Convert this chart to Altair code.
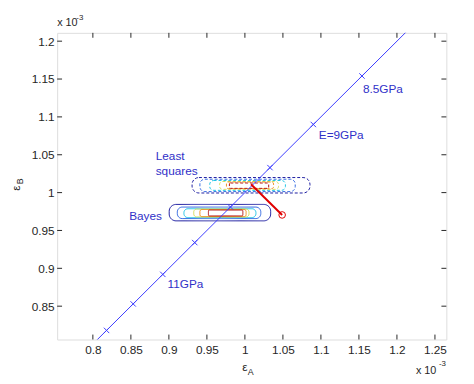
import altair as alt
import pandas as pd

# ---- data (strain values in units of 1e-3) ----
x_ticks = [0.8, 0.85, 0.9, 0.95, 1.0, 1.05, 1.1, 1.15, 1.2, 1.25]
y_ticks = [0.85, 0.9, 0.95, 1.0, 1.05, 1.1, 1.15, 1.2]

# modulus line (eps_A, eps_B) and its E markers
line_A = [0.80, 1.22]
line_B = [0.80, 1.22]
E_GPa = [8.5, 9, 9.5, 10, 10.5, 11, 11.5, 12]
E_eps_A = [1.154, 1.090, 1.033, 0.981, 0.934, 0.892, 0.853, 0.818]
E_eps_B = [1.154, 1.090, 1.033, 0.981, 0.934, 0.892, 0.853, 0.818]

label_text = ["8.5GPa", "E=9GPa", "11GPa", "Least", "squares", "Bayes"]
label_A = [1.1553, 1.0972, 0.8982, 0.8827, 0.8827, 0.8478]
label_B = [1.1371, 1.0766, 0.8797, 1.0484, 1.0290, 0.9692]

# contour levels (outer -> inner): x-extent and y-extent
level_ids = [1, 2, 3, 4, 5, 6]
level_colors = ["#1c1ca0", "#2f66e0", "#1ec4e6", "#d6dc5a", "#f0901e", "#b01010"]
level_radius = [7, 5, 4, 3, 2, 1]
bayes_x0 = [0.9004, 0.9111, 0.9198, 0.9327, 0.9408, 0.9520]
bayes_x1 = [1.0339, 1.0209, 1.0145, 1.0054, 1.0016, 0.9973]
bayes_y0 = [0.9627, 0.9657, 0.9670, 0.9679, 0.9683, 0.9692]
bayes_y1 = [0.9844, 0.9809, 0.9787, 0.9783, 0.9777, 0.9770]
ls_x0 = [0.9305, 0.9408, 0.9537, 0.9667, 0.9757, 0.9796]
ls_x1 = [1.0856, 1.0662, 1.0533, 1.0442, 1.0377, 1.0313]
ls_y0 = [0.9995, 1.0013, 1.0030, 1.0043, 1.0052, 1.0056]
ls_y1 = [1.0199, 1.0177, 1.0160, 1.0147, 1.0140, 1.0127]

# estimate shift (least squares -> Bayes-corrected point)
shift_A = [1.008, 1.049]
shift_B = [1.011, 0.9705]

FONT = "Liberation Sans"
TXT = "#262626"
BLUE_LINE = "#3b3bff"
BLUE_TXT = "#3030c8"
W, H = 396, 312

xs = alt.Scale(domain=[0.753, 1.265], nice=False, zero=False)
ys = alt.Scale(domain=[0.806, 1.211], nice=False, zero=False)
x_axis = alt.Axis(values=x_ticks, format="~g", ticks=False, domain=False, grid=False, title=None,
                  labelPadding=5, labelFontSize=12, labelFont=FONT, labelColor=TXT)
y_axis = alt.Axis(values=y_ticks, format="~g", ticks=False, domain=False, grid=False, title=None,
                  labelPadding=3, labelFontSize=12, labelFont=FONT, labelColor=TXT)


def X(f):
    return alt.X(f, scale=xs, axis=x_axis, title=None)


def Y(f):
    return alt.Y(f, scale=ys, axis=y_axis, title=None)


layers = []

# contours
for i, lv in enumerate(level_ids):
    for method, x0, x1, y0, y1, dash in [
        ("Bayes", bayes_x0, bayes_x1, bayes_y0, bayes_y1, [1, 0]),
        ("LS", ls_x0, ls_x1, ls_y0, ls_y1, [3, 2]),
    ]:
        sub = pd.DataFrame({"x0": [x0[i]], "x1": [x1[i]], "y0": [y0[i]], "y1": [y1[i]]})
        layers.append(
            alt.Chart(sub).mark_rect(filled=False, strokeWidth=1, cornerRadius=level_radius[i],
                                     stroke=level_colors[i], strokeDash=dash).encode(
                x=X("x0:Q"), x2="x1:Q", y=Y("y0:Q"), y2="y1:Q",
            )
        )

# modulus line
ldf = pd.DataFrame({"a": line_A, "b": line_B})
layers.append(
    alt.Chart(ldf).mark_line(color=BLUE_LINE, strokeWidth=1, clip=True).encode(x=X("a:Q"), y=Y("b:Q"))
)
edf = pd.DataFrame({"E": E_GPa, "a": E_eps_A, "b": E_eps_B})
layers.append(
    alt.Chart(edf).mark_point(shape="M-1,-1L1,1M-1,1L1,-1", size=30, color=BLUE_LINE,
                              strokeWidth=1, filled=False, opacity=1).encode(x=X("a:Q"), y=Y("b:Q"))
)

# red shift line & circle
sdf = pd.DataFrame({"a": shift_A, "b": shift_B, "o": [0, 1]})
layers.append(
    alt.Chart(sdf).mark_line(color="#e00000", strokeWidth=2).encode(x=X("a:Q"), y=Y("b:Q"), order="o:Q")
)
layers.append(
    alt.Chart(sdf[sdf["o"] == 1]).mark_point(shape="circle", size=45, color="#e00000",
                                              filled=False, strokeWidth=1, opacity=1).encode(
        x=X("a:Q"), y=Y("b:Q"))
)

# annotations
tdf = pd.DataFrame({"t": label_text, "a": label_A, "b": label_B})
layers.append(
    alt.Chart(tdf).mark_text(align="left", baseline="middle", font=FONT, fontSize=12,
                             color=BLUE_TXT).encode(x=X("a:Q"), y=Y("b:Q"), text="t:N")
)

# inner ticks on all four sides
xt = pd.DataFrame({"v": x_ticks})
yt = pd.DataFrame({"v": y_ticks})
for y0, y1 in [(H, H - 5), (0, 5)]:
    layers.append(
        alt.Chart(xt).mark_rule(color=TXT, strokeWidth=1).encode(
            x=X("v:Q"), y=alt.value(y0), y2=alt.value(y1))
    )
for x0, x1 in [(0, 5), (W, W - 5)]:
    layers.append(
        alt.Chart(yt).mark_rule(color=TXT, strokeWidth=1).encode(
            y=Y("v:Q"), x=alt.value(x0), x2=alt.value(x1))
    )


# axis titles and exponent labels
def txt(s, x, y, size, align="left", angle=0):
    return alt.Chart(pd.DataFrame({"t": [s]})).mark_text(
        align=align, baseline="middle", font=FONT, fontSize=size, color=TXT, angle=angle
    ).encode(text="t:N", x=alt.value(x), y=alt.value(y))


layers += [
    txt("ε", 191, 340, 12, "center"),
    txt("A", 194, 345, 9),
    txt("x 10", 365, 344, 11),
    txt("-3", 388.5, 337, 8),
    txt("x 10", 0, -10, 11),
    txt("-3", 19.5, -15, 8),
    txt("ε", -42, 158, 12, "center", 270),
    txt("B", -38, 151, 9, "center", 270),
]

chart = alt.layer(*layers).properties(
    width=W, height=H,
    autosize=alt.AutoSizeParams(type="none"),
    padding={"left": 50, "top": 22, "right": 20, "bottom": 42},
).configure_view(stroke="#262626", strokeWidth=1).configure(background="white")

chart.save("out.html", embed_options={"renderer": "svg", "actions": False})
